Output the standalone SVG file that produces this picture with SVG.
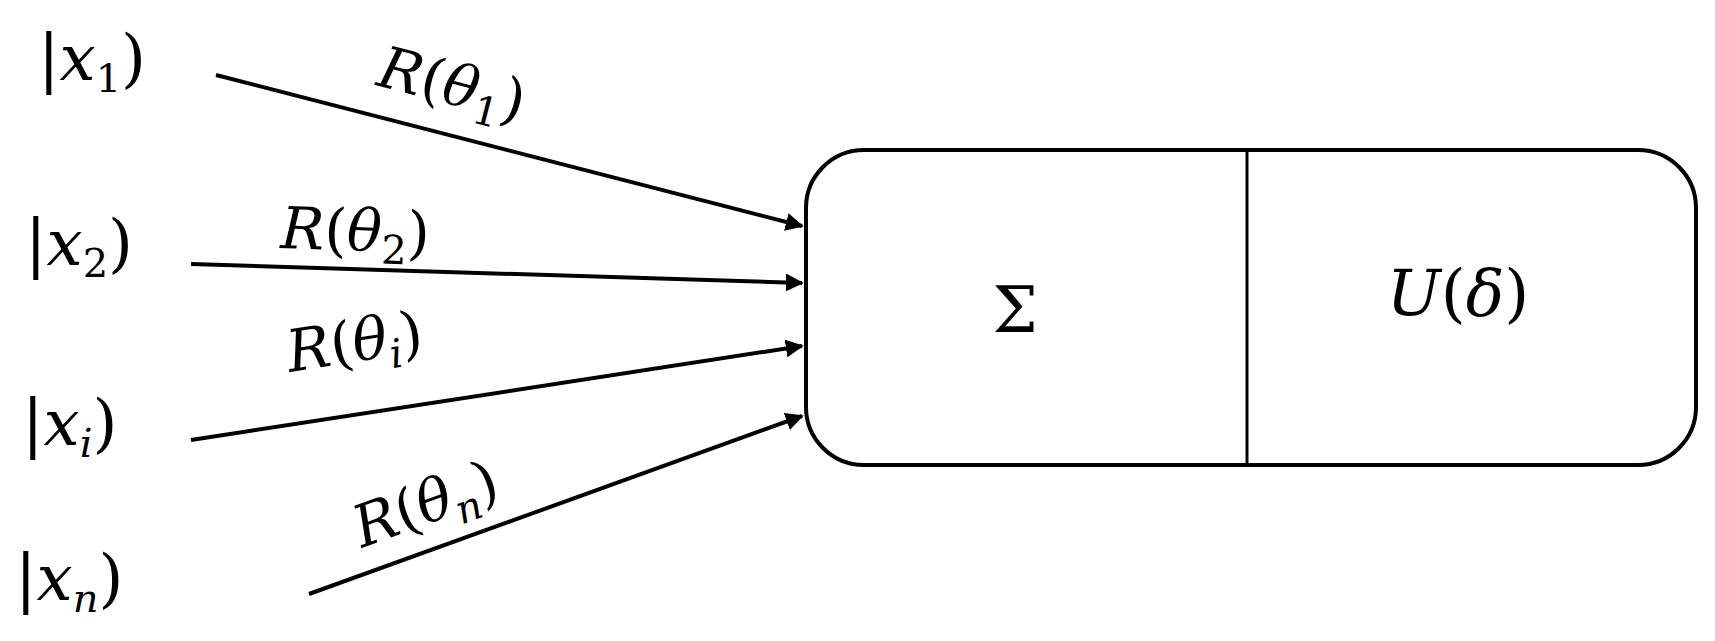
<svg xmlns="http://www.w3.org/2000/svg" width="1715" height="641" viewBox="0 0 1715 641">
<style>
text{font-family:"DejaVu Serif","Liberation Serif",serif;fill:#000;font-size:64px}
.i{font-style:italic}
.s{font-size:40px}
.r{font-size:58px}
.ln{stroke:#000;stroke-width:4;fill:none}
</style>
<defs><marker id="a" viewBox="0 0 10 10" refX="9" refY="5" markerWidth="4.5" markerHeight="4.5" orient="auto"><path d="M0,0L10,5L0,10z" fill="#000"/></marker></defs>
<rect width="1715" height="641" fill="#fff"/>
<g id="connectors">
<line class="ln" x1="216" y1="75" x2="802" y2="226" marker-end="url(#a)"/>
<line class="ln" x1="191" y1="264" x2="802" y2="283" marker-end="url(#a)"/>
<line class="ln" x1="191" y1="440" x2="802" y2="346" marker-end="url(#a)"/>
<line class="ln" x1="309" y1="594" x2="802" y2="416" marker-end="url(#a)"/>
<text class="r" transform="translate(375,85) rotate(14.4)"><tspan class="i">R</tspan>(<tspan class="i">θ</tspan><tspan class="s" dy="12">1</tspan><tspan dy="-12">)</tspan></text>
<text class="r" transform="translate(280,248) rotate(2)"><tspan class="i">R</tspan>(<tspan class="i">θ</tspan><tspan class="s" dy="12">2</tspan><tspan dy="-12">)</tspan></text>
<text class="r" transform="translate(290,372) rotate(-8.8)"><tspan class="i">R</tspan>(<tspan class="i">θ</tspan><tspan class="s i" dy="12">i</tspan><tspan dy="-12">)</tspan></text>
<text class="r" transform="translate(362,548) rotate(-20)"><tspan class="i">R</tspan>(<tspan class="i">θ</tspan><tspan class="s i" dy="12">n</tspan><tspan dy="-12">)</tspan></text>
</g>
<g id="inputs">
<text x="38" y="80">|<tspan class="i">x</tspan><tspan class="s" dy="12">1</tspan><tspan dy="-12">)</tspan></text>
<text x="25" y="265">|<tspan class="i">x</tspan><tspan class="s" dy="12">2</tspan><tspan dy="-12">)</tspan></text>
<text x="22" y="445">|<tspan class="i">x</tspan><tspan class="s i" dy="12">i</tspan><tspan dy="-12">)</tspan></text>
<text x="15" y="600">|<tspan class="i">x</tspan><tspan class="s i" dy="12">n</tspan><tspan dy="-12">)</tspan></text>
</g>
<g id="neuron">
<rect x="806" y="150" width="890" height="315" rx="58" class="ln"/>
<line x1="1247" y1="150" x2="1247" y2="465" stroke="#000" stroke-width="3"/>
<text x="1015" y="332" text-anchor="middle" font-size="72">Σ</text>
<text x="1458" y="315" text-anchor="middle" font-size="66"><tspan class="i">U</tspan>(<tspan class="i">δ</tspan>)</text>
</g>
</svg>
